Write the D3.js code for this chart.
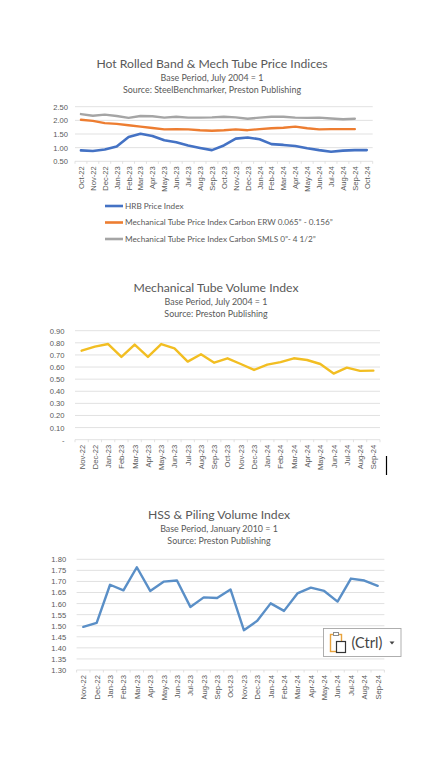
<!DOCTYPE html>
<html>
<head>
<meta charset="utf-8">
<script src="https://cdn.jsdelivr.net/npm/d3@7"></script>
<style>
    body { margin: 0; background: #fff; }
    svg { display: block; font-family: Lato, "Open Sans", sans-serif; }
    .title { fill: #595959; font-size: 12.2px; }
    .subtitle { fill: #595959; font-size: 8.9px; }
    .axis text { fill: #595959; font-size: 7.6px; }
    .axis .domain { display: none; }
    .grid line { stroke: #D9D9D9; stroke-width: 0.8; }
    .legend text { fill: #595959; font-size: 8.2px; }
</style>
</head>
<body>
<div id="chart-area"></div>
<script>

// --- data ---
const months1 = ["Oct-22","Nov-22","Dec-22","Jan-23","Feb-23","Mar-23","Apr-23","May-23","Jun-23","Jul-23",
    "Aug-23","Sep-23","Oct-23","Nov-23","Dec-23","Jan-24","Feb-24","Mar-24","Apr-24","May-24",
    "Jun-24","Jul-24","Aug-24","Sep-24","Oct-24"];

const hrbIndex  = [0.90,0.88,0.93,1.04,1.39,1.51,1.43,1.27,1.20,1.08,0.99,0.91,1.08,1.33,1.37,1.31,1.13,1.10,1.06,0.98,0.91,0.85,0.89,0.91,0.91];
const erwIndex  = [2.02,1.98,1.90,1.87,1.82,1.77,1.72,1.67,1.68,1.67,1.64,1.62,1.64,1.67,1.64,1.68,1.71,1.73,1.77,1.71,1.67,1.68,1.68,1.68,null];
const smlsIndex = [2.23,2.17,2.21,2.16,2.09,2.16,2.15,2.10,2.13,2.10,2.10,2.11,2.13,2.11,2.06,2.10,2.13,2.13,2.10,2.09,2.10,2.07,2.04,2.06,null];

const months2 = ["Nov-22","Dec-22","Jan-23","Feb-23","Mar-23","Apr-23","May-23","Jun-23","Jul-23","Aug-23",
    "Sep-23","Oct-23","Nov-23","Dec-23","Jan-24","Feb-24","Mar-24","Apr-24","May-24","Jun-24",
    "Jul-24","Aug-24","Sep-24"];

const mechVolume = [0.735,0.768,0.790,0.683,0.785,0.683,0.790,0.754,0.645,0.705,0.636,0.672,0.625,0.576,0.620,0.640,0.672,0.658,0.625,0.546,0.595,0.568,0.570];
const hssVolume  = [1.495,1.513,1.685,1.660,1.764,1.657,1.699,1.704,1.585,1.628,1.625,1.664,1.480,1.522,1.601,1.567,1.646,1.672,1.657,1.609,1.713,1.704,1.680];

const ticks1 = [0.5, 1.0, 1.5, 2.0, 2.5];
const ticks2 = [0, 0.1, 0.2, 0.3, 0.4, 0.5, 0.6, 0.7, 0.8, 0.9];
const ticks3 = [1.30, 1.35, 1.40, 1.45, 1.50, 1.55, 1.60, 1.65, 1.70, 1.75, 1.80];

const legend1 = ["HRB Price Index",
    "Mechanical Tube Price Index Carbon ERW 0.065\u201D - 0.156\u201D",
    "Mechanical Tube Price Index Carbon SMLS 0\u201D- 4 1/2\u201D"];


let svg = d3.select("#chart-area").append("svg")
    .attr("width", 443)
    .attr("height", 757);

let fmt = d3.format(".2f");

/*
 * drawChart - one Excel-style line chart
 * cfg: titles, categories, series, y ticks and the pixel box of the plot
 */
function drawChart(cfg) {
    let g = svg.append("g");

    let x = d3.scalePoint()
        .domain(cfg.categories)
        .range([cfg.left, cfg.right])
        .padding(0.5);

    let y = d3.scaleLinear()
        .domain(d3.extent(cfg.ticks))
        .range([cfg.bottom, cfg.top]);

    // titles
    g.append("text")
        .attr("class", "title")
        .attr("x", cfg.titleX)
        .attr("y", cfg.titleY)
        .attr("text-anchor", "middle")
        .text(cfg.title);

    cfg.subtitles.forEach(function(s, i) {
        g.append("text")
            .attr("class", "subtitle")
            .attr("x", cfg.titleX)
            .attr("y", cfg.titleY + 13 + i * 12.4)
            .attr("text-anchor", "middle")
            .text(s);
    });

    // gridlines
    g.append("g")
        .attr("class", "grid")
        .selectAll("line")
        .data(cfg.ticks)
        .join("line")
        .attr("x1", cfg.left)
        .attr("x2", cfg.right)
        .attr("y1", d => y(d))
        .attr("y2", d => y(d));

    // y axis
    g.append("g")
        .attr("class", "axis")
        .attr("transform", "translate(" + cfg.left + ",0)")
        .call(d3.axisLeft(y)
            .tickValues(cfg.ticks)
            .tickSize(0)
            .tickPadding(cfg.yPad)
            .tickFormat(d => d === 0 ? "-   " : fmt(d)));

    // category ticks on the bottom line
    let step = x.step();
    g.append("g")
        .attr("class", "grid")
        .selectAll("line")
        .data(d3.range(cfg.categories.length + 1))
        .join("line")
        .attr("x1", i => cfg.left + i * step)
        .attr("x2", i => cfg.left + i * step)
        .attr("y1", cfg.bottom)
        .attr("y2", cfg.bottom + 2.5);

    // x axis, rotated labels
    let xAxis = g.append("g")
        .attr("class", "axis")
        .attr("transform", "translate(0," + cfg.bottom + ")")
        .call(d3.axisBottom(x).tickSize(0).tickPadding(0));

    xAxis.selectAll("text")
        .attr("transform", "rotate(-90)")
        .attr("text-anchor", "end")
        .attr("x", -5)
        .attr("y", 0)
        .attr("dy", "0.32em");

    // lines
    let line = d3.line()
        .defined(d => d.v !== null)
        .x(d => x(d.c))
        .y(d => y(d.v));

    cfg.series.forEach(function(s) {
        g.append("path")
            .datum(cfg.categories.map((c, i) => ({ c: c, v: s.values[i] })))
            .attr("fill", "none")
            .attr("stroke", s.color)
            .attr("stroke-width", s.width)
            .attr("stroke-linejoin", "round")
            .attr("stroke-linecap", "round")
            .attr("d", line);
    });

    return g;
}


// --- chart 1 ---
let c1 = drawChart({
    title: "Hot Rolled Band & Mech Tube Price Indices",
    subtitles: ["Base Period, July 2004 = 1", "Source:  SteelBenchmarker, Preston Publishing"],
    titleX: 212, titleY: 68,
    categories: months1,
    ticks: ticks1,
    left: 75, right: 372.7, top: 106.7, bottom: 161.3, yPad: 7,
    series: [
        { values: hrbIndex, color: "#4472C4", width: 2.6 },
        { values: erwIndex, color: "#ED7D31", width: 2.4 },
        { values: smlsIndex, color: "#A5A5A5", width: 2.4 }
    ]
});

let legendColors = ["#4472C4", "#ED7D31", "#A5A5A5"];
let legend = c1.append("g").attr("class", "legend");
legend1.forEach(function(name, i) {
    let ly = 206 + i * 16.5;
    legend.append("line")
        .attr("x1", 105).attr("x2", 123)
        .attr("y1", ly).attr("y2", ly)
        .attr("stroke", legendColors[i])
        .attr("stroke-width", 2.6);
    legend.append("text")
        .attr("x", 125)
        .attr("y", ly)
        .attr("dy", "0.35em")
        .text(name);
});

// --- chart 2 ---
drawChart({
    title: "Mechanical Tube Volume Index",
    subtitles: ["Base Period, July 2004 = 1", "Source:  Preston Publishing"],
    titleX: 216, titleY: 292,
    categories: months2,
    ticks: ticks2,
    left: 75, right: 380, top: 330.7, bottom: 439.7, yPad: 10.5,
    series: [{ values: mechVolume, color: "#F2BE22", width: 2.4 }]
});

// the stray cursor mark next to chart 2
svg.append("line")
    .attr("x1", 386.5).attr("x2", 386.5)
    .attr("y1", 456).attr("y2", 475)
    .attr("stroke", "#000")
    .attr("stroke-width", 1.2);

// --- chart 3 ---
drawChart({
    title: "HSS & Piling Volume Index",
    subtitles: ["Base Period, January 2010 = 1", "Source:  Preston Publishing"],
    titleX: 219, titleY: 519,
    categories: months2,
    ticks: ticks3,
    left: 76.6, right: 384.4, top: 559.3, bottom: 670, yPad: 10.5,
    series: [{ values: hssVolume, color: "#5A8FC7", width: 2.4 }]
});

// paste options button over chart 3
let paste = svg.append("g").attr("transform", "translate(323.5,628.5)");
paste.append("rect")
    .attr("width", 77.5).attr("height", 28)
    .attr("fill", "#fff")
    .attr("stroke", "#A6A6A6")
    .attr("stroke-width", 0.9);
paste.append("rect")
    .attr("x", 7).attr("y", 6)
    .attr("width", 11).attr("height", 17)
    .attr("fill", "none")
    .attr("stroke", "#E8A33D")
    .attr("stroke-width", 1.4);
paste.append("rect")
    .attr("x", 10).attr("y", 4)
    .attr("width", 5).attr("height", 3)
    .attr("fill", "#fff")
    .attr("stroke", "#8C8C8C")
    .attr("stroke-width", 1);
paste.append("rect")
    .attr("x", 13).attr("y", 13)
    .attr("width", 9).attr("height", 11)
    .attr("fill", "#fff")
    .attr("stroke", "#333")
    .attr("stroke-width", 1.2);
paste.append("text")
    .attr("x", 28)
    .attr("y", 19)
    .attr("fill", "#444")
    .style("font-size", "14.5px")
    .text("(Ctrl)");
paste.append("path")
    .attr("d", "M66,13 L71,13 L68.5,16 Z")
    .attr("fill", "#444");

</script>
</body>
</html>
